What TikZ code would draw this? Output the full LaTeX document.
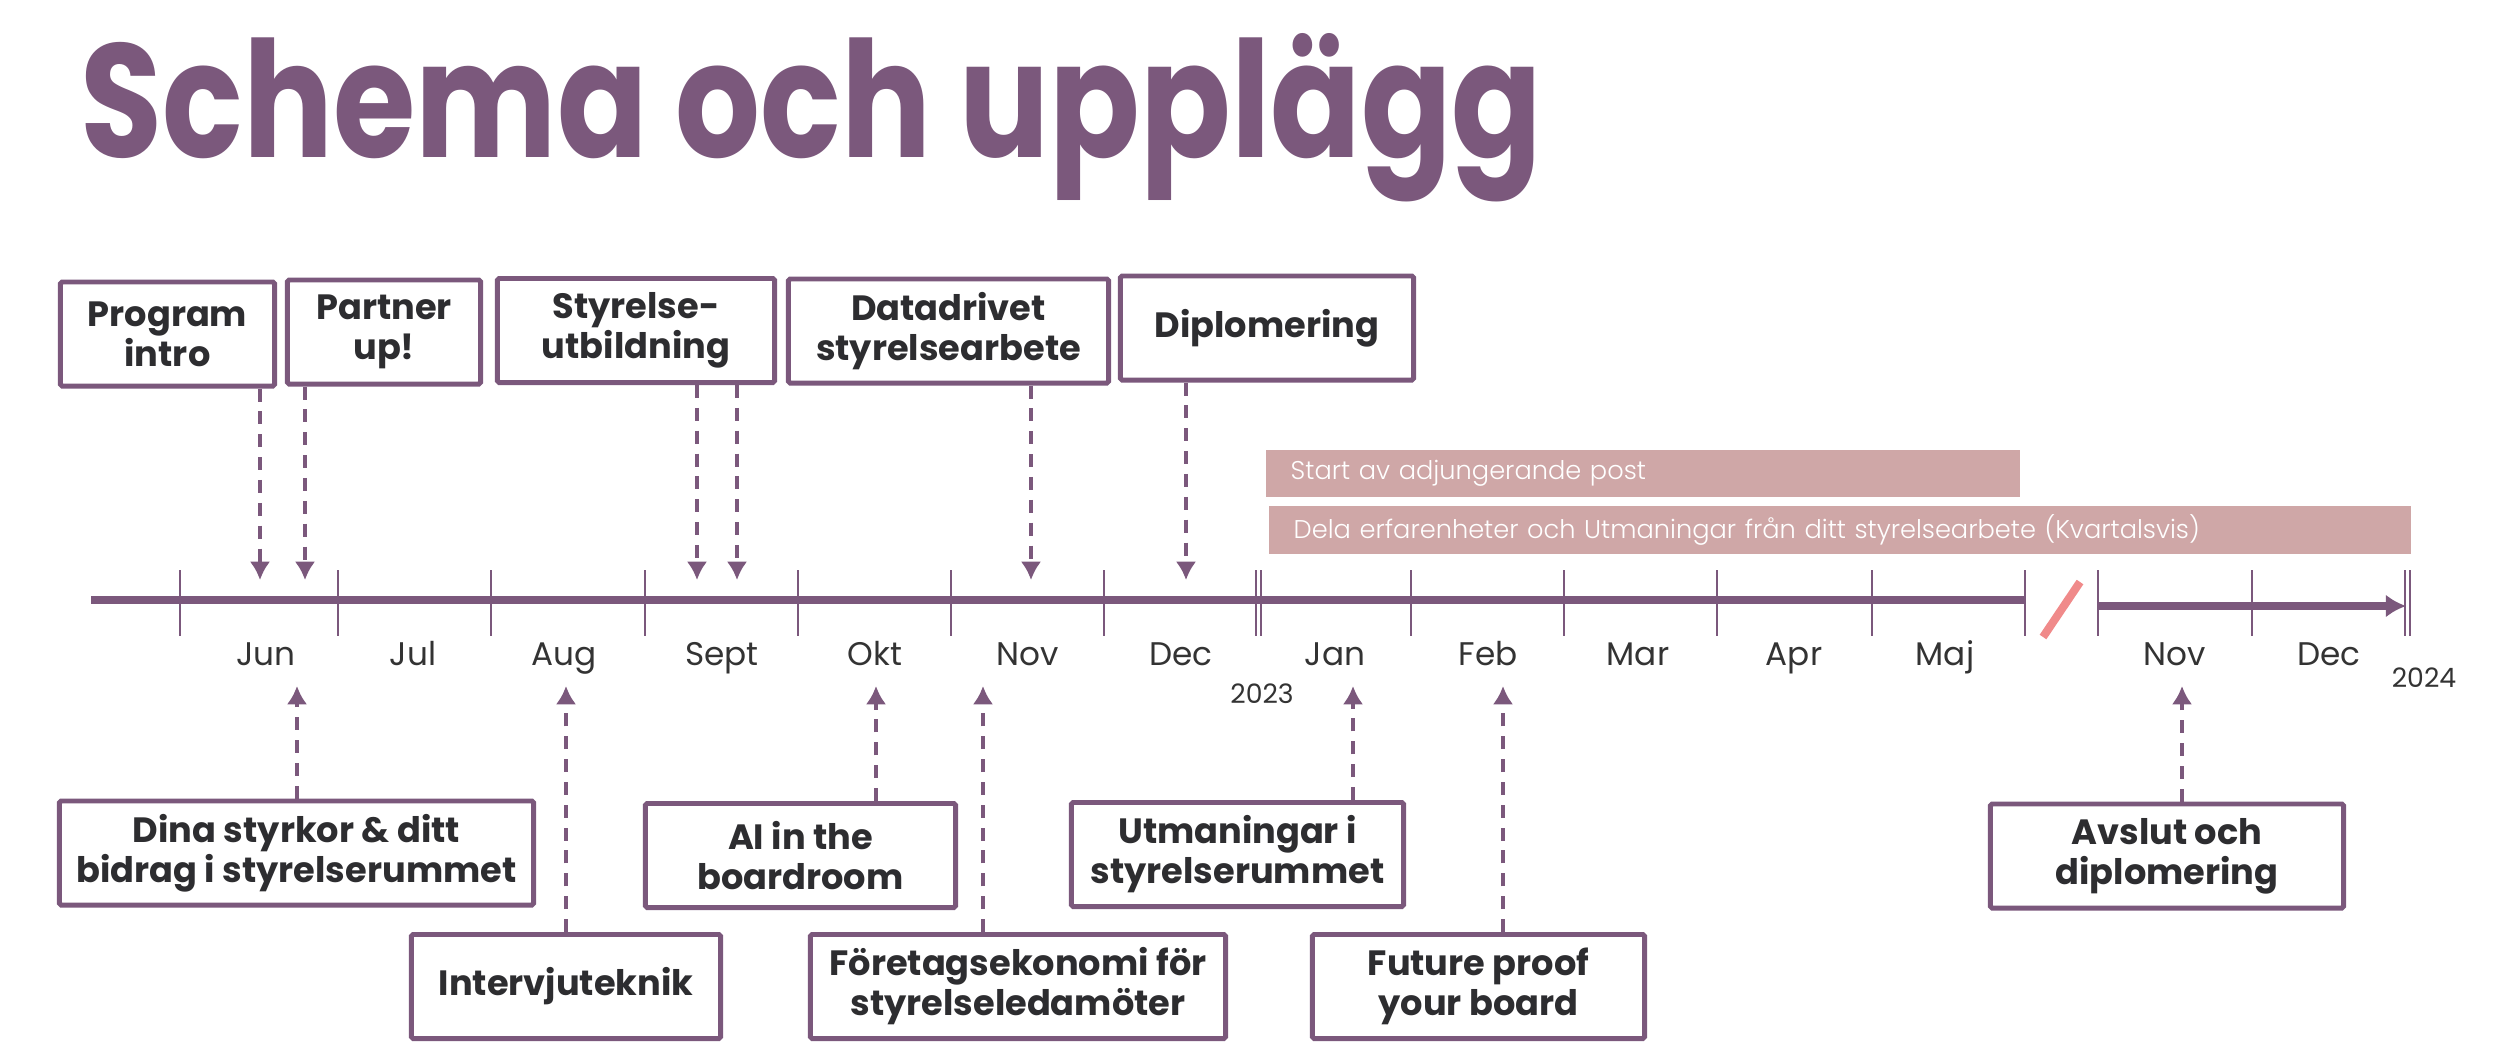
\documentclass[tikz,border=0pt]{standalone}
\usepackage{fontspec}
\setmainfont{Poppins}
\newfontfamily\lightfont{Poppins Light}
\usetikzlibrary{arrows.meta}
\definecolor{purp}{RGB}{123,88,124}
\definecolor{rose}{RGB}{207,167,167}
\definecolor{coral}{RGB}{240,138,138}
\definecolor{darktxt}{RGB}{45,45,48}
\definecolor{monthtxt}{RGB}{51,51,51}

\begin{document}
\begin{tikzpicture}[x=0.01cm, y=-0.01cm,
    eventbox/.style={draw=purp, line width=1.4pt, rounded corners=0.5pt, fill=white,
        text=darktxt, font=\bfseries\fontsize{10}{11.4}\selectfont, align=center,
        inner sep=0pt, minimum height=1.04cm},
    monthlbl/.style={anchor=base, text=monthtxt, font=\fontsize{9.3}{11}\selectfont},
    yearlbl/.style={anchor=base, text=monthtxt, font=\fontsize{7.6}{9}\selectfont},
    postbar/.style={fill=rose, anchor=west, inner xsep=0.25cm, inner ysep=0pt, minimum height=0.47cm,
        text=white, align=left, font=\lightfont\fontsize{7.3}{8}\selectfont},
    dasharr/.style={purp, line width=1.2pt, dash pattern=on 3.7pt off 2.8pt,
        -{Latex[length=5.2pt,width=5.8pt]}}]
    \useasboundingbox (0,0) rectangle (2500,1048);

    % Title
    \node[anchor=base west, inner sep=0pt, text=purp, font=\bfseries\fontsize{46}{50}\selectfont]
        (title) at (80,157) {\scalebox{0.825}[1]{Schema och upplägg}};

    % Timeline axis
    \draw[purp, line width=2pt] (91,600) -- (2025,600);
    \draw[purp, line width=2.3pt, -{Latex[length=5.7pt,width=6.5pt]}] (2098,606) -- (2406,606);
    \draw[coral, line width=2.3pt] (2043,637) -- (2080,582);

    % Month ticks
    \draw[purp, line width=0.6pt]
        (180,570) -- (180,636)   (338,570) -- (338,636)   (491,570) -- (491,636)
        (645,570) -- (645,636)   (798,570) -- (798,636)   (951,570) -- (951,636)
        (1104,570) -- (1104,636) (1256,570) -- (1256,636) (1261,570) -- (1261,636)
        (1411,570) -- (1411,636) (1564,570) -- (1564,636) (1717,570) -- (1717,636)
        (1872,570) -- (1872,636) (2025,570) -- (2025,636) (2098,570) -- (2098,636)
        (2252,570) -- (2252,636) (2405,570) -- (2405,636) (2410,570) -- (2410,636);

    % Month labels
    \node[monthlbl] (jun)  at (266,665)  {Jun};
    \node[monthlbl] (jul)  at (413,665)  {Jul};
    \node[monthlbl] (aug)  at (564,665)  {Aug};
    \node[monthlbl] (sep)  at (722,665)  {Sept};
    \node[monthlbl] (okt)  at (875,665)  {Okt};
    \node[monthlbl] (nov)  at (1028,665) {Nov};
    \node[monthlbl] (dec)  at (1181,665) {Dec};
    \node[monthlbl] (jan)  at (1335,665) {Jan};
    \node[monthlbl] (feb)  at (1488,665) {Feb};
    \node[monthlbl] (mar)  at (1638,665) {Mar};
    \node[monthlbl] (apr)  at (1794,665) {Apr};
    \node[monthlbl] (maj)  at (1945,665) {Maj};
    \node[monthlbl] (nov2) at (2175,665) {Nov};
    \node[monthlbl] (dec2) at (2329,665) {Dec};
    \node[yearlbl] (y23) at (1262,703) {2023};
    \node[yearlbl] (y24) at (2424,687) {2024};

    % Ongoing activities
    \node[postbar, text width=7.04cm] (adj) at (1265,473.5) {Start av adjungerande post};
    \node[postbar, text width=10.92cm] (dela) at (1268,530)
        {Dela erfarenheter och Utmaningar från ditt styrelsearbete (Kvartalsvis)};

    % Events above the timeline
    \node[eventbox, minimum width=2.14cm] (prog)    at (167.5,334) {Program\\intro};
    \node[eventbox, minimum width=1.93cm] (partner) at (384,332)   {Partner\\up!};
    \node[eventbox, minimum width=2.77cm] (utb)     at (636,330.5) {Styrelse-\\utbildning};
    \node[eventbox, minimum width=3.20cm] (data)    at (948.5,331) {Datadrivet\\styrelsearbete};
    \node[eventbox, minimum width=2.93cm] (dipl)    at (1267,328)  {Diplomering};

    \coordinate (t-prog)    at (260,580);
    \coordinate (t-partner) at (305,580);
    \coordinate (t-utb1)    at (697,580);
    \coordinate (t-utb2)    at (737,580);
    \coordinate (t-data)    at (1031,580);
    \coordinate (t-dipl)    at (1186,580);

    \draw[dasharr] (prog.south -| t-prog) -- (t-prog);
    \draw[dasharr] (partner.south -| t-partner) -- (t-partner);
    \draw[dasharr] (utb.south -| t-utb1) -- (t-utb1);
    \draw[dasharr] (utb.south -| t-utb2) -- (t-utb2);
    \draw[dasharr] (data.south -| t-data) -- (t-data);
    \draw[dasharr] (dipl.south -| t-dipl) -- (t-dipl);

    % Events below the timeline
    \node[eventbox, minimum width=4.74cm] (dina)    at (296.5,853)  {Dina styrkor \& ditt\\bidrag i styrelserummet};
    \node[eventbox, minimum width=3.09cm] (interv)  at (566,986.5)  {Intervjuteknik};
    \node[eventbox, minimum width=3.10cm] (ai)      at (800.5,855.5) {AI in the\\boardroom};
    \node[eventbox, minimum width=4.15cm] (ekonomi) at (1018,986.5) {Företagsekonomi för\\styrelseledamöter};
    \node[eventbox, minimum width=3.32cm] (utman)   at (1237.5,854.5) {Utmaningar i\\styrelserummet};
    \node[eventbox, minimum width=3.32cm] (future)  at (1478.5,986.5) {Future proof\\your board};
    \node[eventbox, minimum width=3.53cm] (avslut)  at (2167,856)   {Avslut och\\diplomering};

    \coordinate (b-dina)    at (297,686);
    \coordinate (b-interv)  at (566,686);
    \coordinate (b-ai)      at (876,686);
    \coordinate (b-ekonomi) at (983,686);
    \coordinate (b-utman)   at (1353,686);
    \coordinate (b-future)  at (1503,686);
    \coordinate (b-avslut)  at (2182,686);

    \draw[dasharr] (dina.north -| b-dina) -- (b-dina);
    \draw[dasharr] (interv.north -| b-interv) -- (b-interv);
    \draw[dasharr] (ai.north -| b-ai) -- (b-ai);
    \draw[dasharr] (ekonomi.north -| b-ekonomi) -- (b-ekonomi);
    \draw[dasharr] (utman.north -| b-utman) -- (b-utman);
    \draw[dasharr] (future.north -| b-future) -- (b-future);
    \draw[dasharr] (avslut.north -| b-avslut) -- (b-avslut);
\end{tikzpicture}
\end{document}
